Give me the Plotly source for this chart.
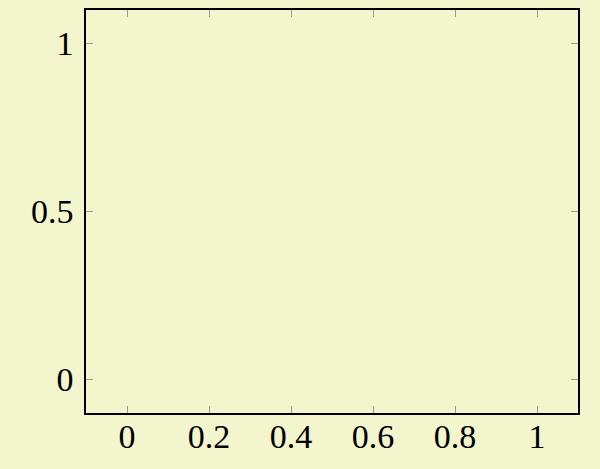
import plotly.graph_objects as go

x_ticks = [0, 0.2, 0.4, 0.6, 0.8, 1]
x_tick_labels = ["0", "0.2", "0.4", "0.6", "0.8", "1"]
y_ticks = [0, 0.5, 1]
y_tick_labels = ["0", "0.5", "1"]
x_range = [-0.1, 1.1]
y_range = [-0.1, 1.1]

bg = "#F3F5CD"
fig = go.Figure()
fig.add_trace(go.Scatter(x=[], y=[], mode="lines"))

axis_common = dict(
    showgrid=False, zeroline=False, showline=True, linecolor="black", linewidth=1.5,
    mirror="ticks", ticks="inside", ticklen=7, tickwidth=1, tickcolor="#999999",
    tickfont=dict(family="Liberation Serif, DejaVu Serif, serif", size=34, color="black"),
)
fig.update_xaxes(range=x_range, tickvals=x_ticks, ticktext=x_tick_labels,
                 ticklabelstandoff=-8, **axis_common)
fig.update_yaxes(range=y_range, tickvals=y_ticks, ticktext=y_tick_labels,
                 ticklabelstandoff=4, **axis_common)
fig.update_layout(
    width=600, height=469, paper_bgcolor=bg, plot_bgcolor=bg,
    margin=dict(l=86, r=22, t=10, b=56, autoexpand=False), showlegend=False,
)
fig.write_html(
    "out.html",
    config={"displayModeBar": False},
    post_script="document.body.style.margin='0';document.body.style.background='%s';" % bg,
)
